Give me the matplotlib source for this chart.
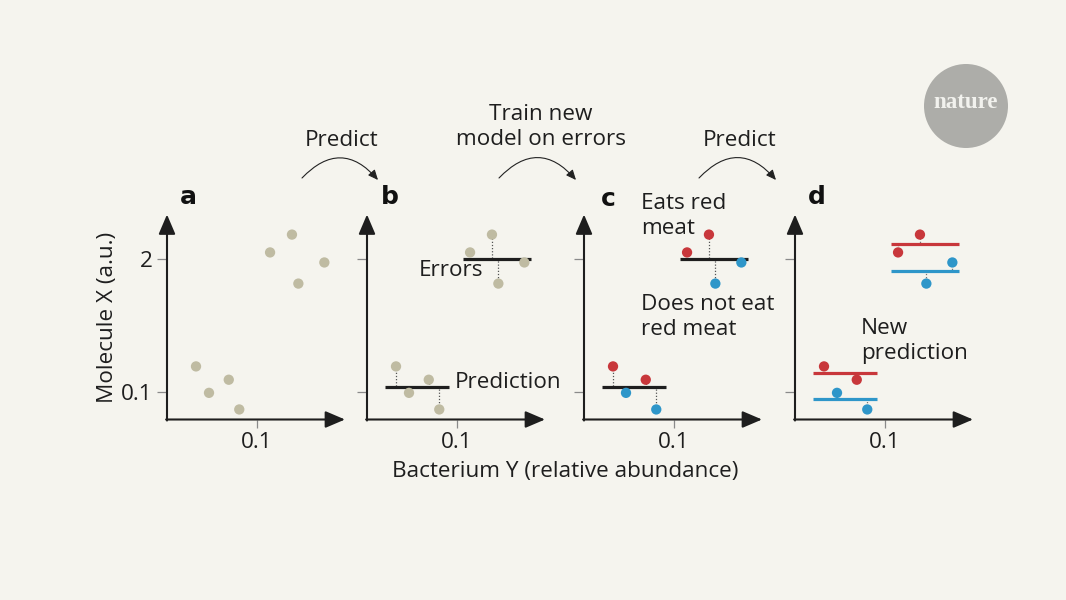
import matplotlib
matplotlib.use("Agg")
import matplotlib.pyplot as plt
from matplotlib.patches import FancyArrowPatch, Ellipse

# ---------------- data ----------------
x_pts = [5.79, 7.02, 8.84, 7.38, 1.63, 2.36, 3.47, 4.06]
y_pts = [8.15, 9.02, 7.66, 6.63, 2.59, 1.30, 1.94, 0.49]
cluster = [1, 1, 1, 1, 0, 0, 0, 0]          # 0 = lower group, 1 = upper group
eats_red_meat = [1, 1, 0, 0, 1, 0, 1, 0]

# first model prediction per cluster
pred_x0 = [1.03, 5.38]
pred_x1 = [4.59, 9.21]
pred_y = [1.58, 7.85]

# new prediction per cluster and diet (index [cluster][diet]) diet: 0 no red meat, 1 red meat
new_pred_y = [[1.00, 2.26], [7.22, 8.54]]

ytick_pos = [1.32, 7.85]
ytick_labels = ["0.1", "2"]
xtick_pos = [5.03]
xtick_labels = ["0.1"]
panel_letters = ["a", "b", "c", "d"]

# ---------------- style ----------------
BG = "#F5F4EE"
TAN = "#BFBBA2"
RED = "#C8373B"
BLUE = "#2E96C9"
DARK = "#1E1E1E"
FONT = ["Open Sans", "DejaVu Sans"]
FS = 16.2

W, H = 1066, 600
fig = plt.figure(figsize=(W / 100, H / 100), dpi=100, facecolor=BG)


def fx(x):
    return x / W


def fy(y):
    return 1 - y / H


origins = [167, 367, 584, 795]
base_y = 419.5
ax_w, ax_h = 178, 205

axes = []
for i, ox in enumerate(origins):
    ax = fig.add_axes([fx(ox), fy(base_y), ax_w / W, ax_h / H])
    ax.set_facecolor("none")
    ax.set_xlim(0, 10)
    ax.set_ylim(0, 10)
    for s in ax.spines.values():
        s.set_visible(False)
    ax.set_yticks(ytick_pos)
    ax.set_yticklabels(ytick_labels if i == 0 else ["", ""], fontsize=FS, family=FONT, color=DARK)
    ax.set_xticks(xtick_pos)
    ax.set_xticklabels(xtick_labels, fontsize=FS, family=FONT, color=DARK)
    ax.tick_params(axis="y", direction="out", length=7.2, width=0.9, color="#8a8a8a", pad=3)
    ax.tick_params(axis="x", direction="out", length=6, width=0.9, color="#8a8a8a", pad=3)
    # axis arrows
    for (xy, xytext) in [((10, 0), (-0.05, 0)), ((0, 10), (0, -0.05))]:
        a = FancyArrowPatch(xytext, xy, arrowstyle="-|>,head_length=0.75,head_width=0.32",
                            mutation_scale=16, color=DARK, lw=1.5, clip_on=False,
                            shrinkA=0, shrinkB=0, zorder=3)
        ax.add_patch(a)
    axes.append(ax)

ax_a, ax_b, ax_c, ax_d = axes

# panel a
ax_a.scatter(x_pts, y_pts, s=55, color=TAN, edgecolors="none", zorder=4, clip_on=False)

# panel b
for k in range(2):
    ax_b.plot([pred_x0[k], pred_x1[k]], [pred_y[k]] * 2, color=DARK, lw=2.3, zorder=3,
              solid_capstyle="butt")
for x, y, c in zip(x_pts, y_pts, cluster):
    ax_b.plot([x, x], [y, pred_y[c]], ls=(0, (1, 1.5)), color="#555555", lw=0.9, zorder=2)
ax_b.scatter(x_pts, y_pts, s=55, color=TAN, edgecolors="none", zorder=4)

# panel c
cols = [RED if e else BLUE for e in eats_red_meat]
for k in range(2):
    ax_c.plot([pred_x0[k], pred_x1[k]], [pred_y[k]] * 2, color=DARK, lw=2.3, zorder=3,
              solid_capstyle="butt")
for x, y, c in zip(x_pts, y_pts, cluster):
    ax_c.plot([x, x], [y, pred_y[c]], ls=(0, (1, 1.5)), color="#555555", lw=0.9, zorder=2)
ax_c.scatter(x_pts, y_pts, s=55, color=cols, edgecolors="none", zorder=4)

# panel d
for k in range(2):
    for diet, col in [(1, RED), (0, BLUE)]:
        ax_d.plot([pred_x0[k], pred_x1[k]], [new_pred_y[k][diet]] * 2, color=col, lw=2.3,
                  zorder=3, solid_capstyle="butt")
for x, y, c, e in zip(x_pts, y_pts, cluster, eats_red_meat):
    ax_d.plot([x, x], [y, new_pred_y[c][e]], ls=(0, (1, 1.5)), color="#777777", lw=0.9, zorder=2)
ax_d.scatter(x_pts, y_pts, s=55, color=cols, edgecolors="none", zorder=4)

# panel letters
for ax, letter, (lx, ly) in zip(axes, panel_letters, [(188, 197), (390, 197), (608, 199), (817, 197)]):
    fig.text(fx(lx), fy(ly), letter, fontsize=18, fontweight="heavy", family="DejaVu Sans",
             ha="center", va="center", color="#111111")

# axis labels
fig.text(fx(108), fy(317), "Molecule X (a.u.)", rotation=90, fontsize=FS, family=FONT,
         ha="center", va="center", color=DARK)
fig.text(fx(565), fy(471), "Bacterium Y (relative abundance)", fontsize=FS, family=FONT,
         ha="center", va="center", color=DARK)

# annotations
def t(x, y, s, ha="left"):
    fig.text(fx(x), fy(y), s, fontsize=FS, family=FONT, ha=ha, va="center", color=DARK,
             linespacing=1.2)

t(483, 271, "Errors", ha="right")
t(455, 382, "Prediction")
t(641, 216, "Eats red\nmeat")
t(641, 317, "Does not eat\nred meat")
t(861, 341, "New\nprediction")

t(342, 140, "Predict", ha="center")
t(541, 127, "Train new\nmodel on errors", ha="center")
t(740, 140, "Predict", ha="center")

for x0, x1 in [(302, 378), (499, 576), (699, 776)]:
    arr = FancyArrowPatch((fx(x0), fy(178)), (fx(x1), fy(180)), transform=fig.transFigure,
                          connectionstyle="arc3,rad=-0.55",
                          arrowstyle="-|>,head_length=0.5,head_width=0.22", mutation_scale=12,
                          color="#222222", lw=0.8, shrinkA=0, shrinkB=0)
    fig.add_artist(arr)

# logo
fig.add_artist(Ellipse((fx(966), fy(106)), 84 / W, 84 / H, transform=fig.transFigure,
                       color="#ADADA9", lw=0))
fig.text(fx(966), fy(103), "nature", fontsize=16.5, family="Liberation Serif", fontweight="bold",
         ha="center", va="center", color="#F2F2EE")

fig.savefig("out.png", dpi=100, facecolor=BG)
